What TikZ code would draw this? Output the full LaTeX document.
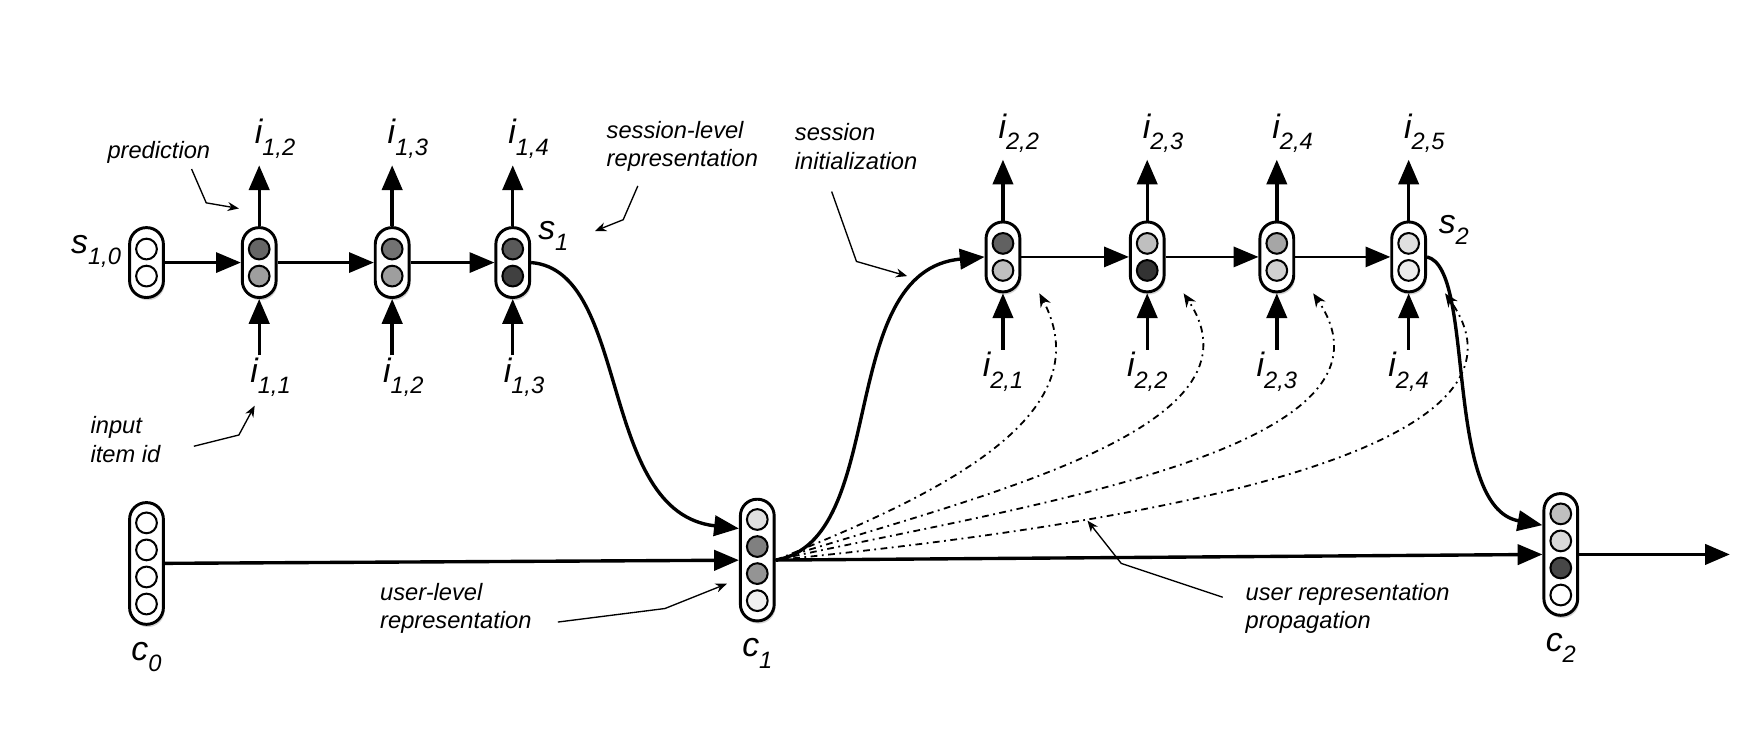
\documentclass[tikz,border=0pt]{standalone}
\usepackage{fontspec}
\setmainfont{Liberation Sans}
\usetikzlibrary{arrows.meta,shadows}
\tikzset{
  pill/.style={draw,line width=1.3pt,fill=white,rounded corners=7.4pt,minimum width=15pt,inner sep=0pt,drop shadow={shadow xshift=0.6pt,shadow yshift=-1.2pt,opacity=0.35}},
  p2/.style={pill,minimum height=31pt},
  p4/.style={pill,minimum height=54pt},
  cell/.style={draw,line width=0.9pt},
  big/.style={-{Triangle[length=11pt,width=9pt]},line width=1.5pt},
  mid/.style={-{Triangle[length=11pt,width=9pt]},line width=1pt},
  prop/.style={-{Stealth[length=6pt,width=5pt]},line width=0.8pt,dash dot},
  ann/.style={-{Stealth[length=5pt,width=4pt]},line width=0.6pt},
  lab/.style={font=\fontsize{15}{17}\selectfont\itshape,inner sep=1pt},
  txt/.style={font=\fontsize{10.5}{12.5}\selectfont\itshape,align=left,inner sep=0pt}
}
\newcommand\mysub[2]{#1\raisebox{-5pt}{\fontsize{10.5}{12}\selectfont\itshape #2}}
\newcommand\twocell[5]{%
  \node[p2] (#1) at (#2,#3) {};
  \fill[#4] ([yshift=6pt]#1.center) circle (4.6pt); \draw[cell] ([yshift=6pt]#1.center) circle (4.6pt);
  \fill[#5] ([yshift=-6pt]#1.center) circle (4.6pt); \draw[cell] ([yshift=-6pt]#1.center) circle (4.6pt);}
\newcommand\fourcell[7]{%
  \node[p4] (#1) at (#2,#3) {};
  \foreach \c/\d in {#4/18,#5/6,#6/-6,#7/-18}{\fill[\c] ([yshift=\d pt]#1.center) circle (4.6pt); \draw[cell] ([yshift=\d pt]#1.center) circle (4.6pt);}}
\begin{document}
\begin{tikzpicture}[x=0.5pt,y=-0.5pt]
\useasboundingbox (0,0) rectangle (1560,651);
% top session
\twocell{s10}{130}{233}{white}{white}
\twocell{a1}{230}{233}{black!60}{black!38}
\twocell{a2}{348}{233}{black!55}{black!38}
\twocell{a3}{455}{233}{black!65}{black!75}
\node[lab,anchor=east] (ls10) at ([xshift=-2pt,yshift=5pt]s10.west) {\mysub{s}{1,0}};
\node[lab,anchor=south west] (ls1) at ([xshift=2pt,yshift=-12pt]a3.north east) {\mysub{s}{1}};
\draw[mid] (s10) -- (a1);
\draw[mid] (a1) -- (a2);
\draw[mid] (a2) -- (a3);
\foreach \n/\o/\i in {a1/{1,2}/{1,1},a2/{1,3}/{1,2},a3/{1,4}/{1,3}}{
  \coordinate (\n t) at ([yshift=27pt]\n.north);
  \coordinate (\n b) at ([yshift=-25pt]\n.south);
  \draw[big] (\n.north) -- (\n t);
  \draw[big] (\n b) -- (\n.south);
  \node[lab,anchor=south,xshift=7pt,yshift=2pt] at (\n t) {\mysub{i}{\o}};
  \node[lab,anchor=north,xshift=5pt] at (\n b) {\mysub{i}{\i}};
}
% right session
\twocell{b1}{890}{228}{black!62}{black!25}
\twocell{b2}{1018}{228}{black!25}{black!80}
\twocell{b3}{1133}{228}{black!35}{black!18}
\twocell{b4}{1250}{228}{black!12}{black!8}
\node[lab,anchor=south west] (ls2) at ([xshift=4pt,yshift=-12pt]b4.north east) {\mysub{s}{2}};
\draw[mid] (b1) -- (b2);
\draw[mid] (b2) -- (b3);
\draw[mid] (b3) -- (b4);
\foreach \n/\o/\i in {b1/{2,2}/{2,1},b2/{2,3}/{2,2},b3/{2,4}/{2,3},b4/{2,5}/{2,4}}{
  \coordinate (\n t) at ([yshift=27pt]\n.north);
  \coordinate (\n b) at ([yshift=-25pt]\n.south);
  \draw[big] (\n.north) -- (\n t);
  \draw[big] (\n b) -- (\n.south);
  \node[lab,anchor=south,xshift=7pt,yshift=2pt] at (\n t) {\mysub{i}{\o}};
  \node[lab,anchor=north,xshift=0pt] at (\n b) {\mysub{i}{\i}};
}
% user level
\fourcell{c0}{130}{500}{white}{white}{white}{white}
\fourcell{c1}{672}{497}{black!12}{black!50}{black!42}{black!6}
\fourcell{c2}{1385}{492}{black!25}{black!15}{black!72}{white}
\node[lab,anchor=north] at ([yshift=-6pt]c0.south) {\mysub{c}{0}};
\node[lab,anchor=north] at ([yshift=-6pt]c1.south) {\mysub{c}{1}};
\node[lab,anchor=north] at ([yshift=-6pt]c2.south) {\mysub{c}{2}};
\coordinate (end) at (1535,492);
\draw[big] (c0) -- (c1);
\draw[big] (c1.east) -- (c2.west);
\draw[big] (c2.east) -- (end);
% session to user
\draw[big] (a3.east) .. controls (560,240) and (530,455) .. ([yshift=14pt]c1.west);
\draw[big] (c1.east) .. controls (790,480) and (740,240) .. (b1.west);
\draw[big] (b4.east) .. controls (1310,238) and (1280,450) .. ([yshift=13pt]c2.west);
% propagation
\draw[prop] (c1.east) .. controls (830,440) and (980,370) .. ([xshift=8pt]b1.south east);
\draw[prop] (c1.east) .. controls (870,440) and (1130,380) .. ([xshift=8pt]b2.south east);
\draw[prop] (c1.east) .. controls (900,450) and (1260,400) .. ([xshift=8pt]b3.south east);
\draw[prop] (c1.east) .. controls (960,470) and (1390,410) .. ([xshift=8pt]b4.south east);
% annotations
\node[txt,anchor=west] (tpred) at (95,135) {prediction};
\draw[ann] (170,150) -- (183,180) -- (212,185);
\node[txt,anchor=west] (tsl) at (538,130) {session-level\\representation};
\draw[ann] (566,165) -- (553,195) -- (528,205);
\node[txt,anchor=west] (tsi) at (705,130) {session\\initialization};
\draw[ann] (738,170) -- (760,232) -- (805,245);
\node[txt,anchor=west] (tin) at (80,390) {input\\item id};
\draw[ann] (172,396) -- (212,386) -- (226,360);
\node[txt,anchor=west] (tul) at (337,540) {user-level\\representation};
\draw[ann] (495,552) -- (590,540) -- (645,518);
\node[txt,anchor=west] (tup) at (1105,540) {user representation\\propagation};
\draw[ann] (1085,530) -- (995,500) -- (965,462);
\end{tikzpicture}
\end{document}
